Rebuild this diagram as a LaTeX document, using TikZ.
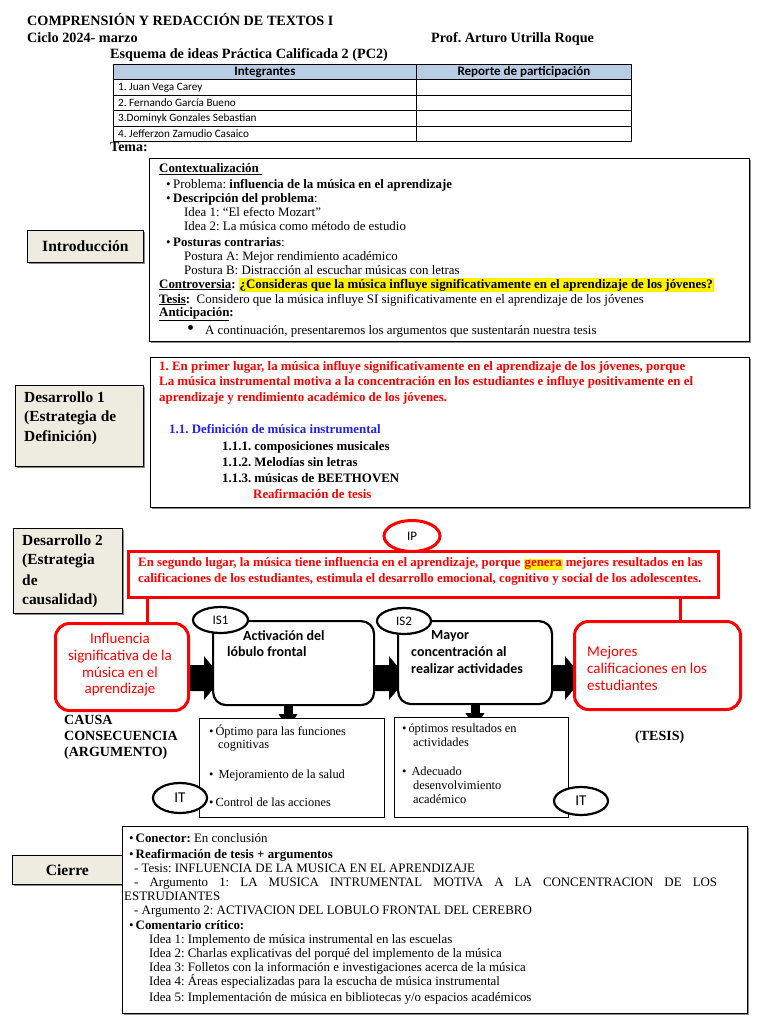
\documentclass[tikz,border=0pt]{standalone}
\usepackage{fontspec}
\setmainfont{Liberation Serif}
\newfontfamily\cb{Carlito}
\usetikzlibrary{calc,shapes.geometric}
\definecolor{rd}{HTML}{FF0000}
\definecolor{bl}{HTML}{2020FF}
\definecolor{beige}{HTML}{EEECE1}
\definecolor{hdr}{HTML}{B8CCE4}
\newcommand\myfs[1]{\fontsize{#1}{#1}\selectfont}
\setlength{\fboxsep}{0.8pt}
\frenchspacing
\newcommand\hbarrow[2]{%
 \fill ($(#1.east |- ay)+(-2,-13)$) -- ($(#2.west |- ay)+(-8,-13)$) -- ($(#2.west |- ay)+(-8,-22)$) -- ($(#2.west |- ay)+(10,0)$) -- ($(#2.west |- ay)+(-8,22)$) -- ($(#2.west |- ay)+(-8,13)$) -- ($(#1.east |- ay)+(-2,13)$) -- cycle;}
\newcommand\vdarrow[3]{%
 \fill ($(#1.south -| #3)+(-4.5,-2)$) rectangle ($(#1.south -| #3)+(4.5,9)$);
 \fill ($(#1.south -| #3)+(-9.5,8)$) -- ($(#1.south -| #3)+(9.5,8)$) -- ($(#1.south -| #3)+(0,22)$) -- cycle;}
\begin{document}
\begin{tikzpicture}[x=1pt,y=-1pt,
 t/.style={anchor=west,inner sep=0pt,text height=9pt,text depth=3pt},
 box/.style={draw,inner sep=0pt,anchor=north west},
 shad/.style={preaction={fill=black!45,transform canvas={shift={(1.8pt,-1.8pt)}}}},
 lab/.style={box,fill=beige,line width=0.8pt,shad},
 big/.style={box,fill=white,line width=1.1pt,shad},
 cell/.style={box,line width=0.8pt,minimum height=15.5},
 redbox/.style={draw=rd,line width=3pt,fill=white,rounded corners=14pt,inner sep=0pt,anchor=north west},
 isbox/.style={draw=black,line width=2.2pt,fill=white,rounded corners=13pt,inner sep=0pt,anchor=north west},
 oval/.style={ellipse,draw,line width=2.2pt,fill=white,inner sep=0pt,font=\cb\myfs{15}},
 hb/.style={font=\myfs{14.2}\bfseries},
 lb/.style={t,font=\myfs{15.4}\bfseries},
 it/.style={t,font=\myfs{12.9}},
 rb/.style={t,font=\myfs{12.9}\bfseries,text=rd},
 rb2/.style={t,font=\myfs{12.85}\bfseries,text=rd},
 cr/.style={t,font=\myfs{12.9}},
 bx/.style={t,font=\myfs{12.4}},
 cbl/.style={t,font=\cb\myfs{14}\bfseries},
 crd/.style={t,font=\cb\myfs{15},text=rd},
]
\useasboundingbox (0,0) rectangle (768,1024);
\fill[white] (0,0) rectangle (768,1024);

% ---------- header ----------
\node[t,hb] (h1) at (27,23) {COMPRENSIÓN Y REDACCIÓN DE TEXTOS I};
\node[t,hb] (h2) at (27,40) {Ciclo 2024- marzo};
\node[t,hb] (h3) at (431,40) {Prof. Arturo Utrilla Roque};
\node[t,font=\myfs{14.2}\bfseries] (h4) at (110,56) {Esquema de ideas Práctica Calificada 2 (PC2)};

% ---------- table ----------
\node[cell,fill=hdr,minimum width=303] (th1) at (113,64) {};
\node[cell,fill=hdr,minimum width=215] (th2) at (416,64) {};
\node[font=\cb\myfs{13}\bfseries,inner sep=0pt] at (th1) {Integrantes};
\node[font=\cb\myfs{13}\bfseries,inner sep=0pt] at (th2) {Reporte de participación};
\foreach \i/\nm in {1/{1. Juan Vega Carey},2/{2. Fernando García Bueno},3/{3.Dominyk Gonzales Sebastian},4/{4. Jefferzon Zamudio Casaico}}{
  \node[cell,minimum width=303] (ra\i) at (113,{64+15.5*\i}) {};
  \node[cell,minimum width=215] (rb\i) at (416,{64+15.5*\i}) {};
  \node[t,font=\cb\myfs{11.2}] at ([xshift=5pt]ra\i.west) {\nm};
}
\node[t,font=\myfs{14}\bfseries] (tema) at (110,149) {Tema:};

% ---------- introduccion ----------
\node[lab,minimum width=116,minimum height=32,font=\myfs{15.6}\bfseries] (Lint) at (27,230) {Introducción};
\node[big,minimum width=600,minimum height=183] (intro) at (149,158) {};
\node[it] at (159,170) {\textbf{\underline{Contextualización\ }}};
\node[it] at (166,186) {•\hspace{2.5pt}Problema: \textbf{influencia de la música en el aprendizaje}};
\node[it] at (166,200) {•\hspace{2.5pt}\textbf{Descripción del problema}:};
\node[it] at (184,214) {Idea 1: “El efecto Mozart”};
\node[it] at (184,228) {Idea 2: La música como método de estudio};
\node[it] at (166,243) {•\hspace{2.5pt}\textbf{Posturas contrarias}:};
\node[it] at (184,257) {Postura A: Mejor rendimiento académico};
\node[it] at (184,271) {Postura B: Distracción al escuchar músicas con letras};
\node[it] at (159,285) {\textbf{\underline{Controversia}:} \colorbox{yellow}{\textbf{¿Consideras que la música influye significativamente en el aprendizaje de los jóvenes?}}};
\node[it] at (159,300) {\textbf{\underline{Tesis}:}\ \ Considero que la música influye SI significativamente en el aprendizaje de los jóvenes};
\node[it] at (159,313) {\textbf{\underline{Anticipación}:}};
\node[it] at (187,331) {{\myfs{20}•}\hspace{11pt}A continuación, presentaremos los argumentos que sustentarán nuestra tesis};

% ---------- desarrollo 1 ----------
\node[lab,minimum width=128,minimum height=81] (Ld1) at (15,385) {};
\node[lb] at (24,399) {Desarrollo 1};
\node[lb] at (24,418) {(Estrategia de};
\node[lb] at (24,438) {Definición)};
\node[big,minimum width=599,minimum height=150] (d1) at (150,357) {};
\node[rb] at (159,367) {1. En primer lugar, la música influye significativamente en el aprendizaje de los jóvenes, porque};
\node[rb] at (159,382) {La música instrumental motiva a la concentración en los estudiantes e influye positivamente en el};
\node[rb] at (159,398) {aprendizaje y rendimiento académico de los jóvenes.};
\node[rb,text=bl] at (169,430) {1.1. Definición de música instrumental};
\node[rb,text=black] at (222,447) {1.1.1. composiciones musicales};
\node[rb,text=black] at (222,463) {1.1.2. Melodías sin letras};
\node[rb,text=black] at (222,479) {1.1.3. músicas de BEETHOVEN};
\node[rb] at (253,495) {Reafirmación de tesis};

% ---------- desarrollo 2 ----------
\node[lab,minimum width=109,minimum height=85] (Ld2) at (13,528) {};
\node[lb] at (22,542) {Desarrollo 2};
\node[lb] at (22,561) {(Estrategia};
\node[lb] at (22,582) {de};
\node[lb] at (22,601) {causalidad)};

\node[box,draw=rd,line width=3pt,fill=white,minimum width=590,minimum height=46] (ipr) at (127,550) {};
\node[oval,draw=rd,line width=3pt,minimum width=56,minimum height=31,font=\cb\myfs{13}] (ip) at (412,536) {IP};
\node[rb2] at (138,563) {En segundo lugar, la música tiene influencia en el aprendizaje, porque \colorbox{yellow}{genera} mejores resultados en las};
\node[rb2] at (138,579) {calificaciones de los estudiantes, estimula el desarrollo emocional, cognitivo y social de los adolescentes.};

\coordinate (ay) at (0,678);
\coordinate (lr1) at (147,0);
\coordinate (lr2) at (680,0);
\coordinate (dx1) at (288,0);
\coordinate (dx2) at (475,0);

% boxes positions (drawn after arrows)
\path (54,622) coordinate (lbp) (212,620) coordinate (is1p) (397,620) coordinate (is2p) (573,620) coordinate (rbp);
\node[redbox,draw=none,fill=none,minimum width=133,minimum height=87] (lbox) at (lbp) {};
\node[isbox,draw=none,fill=none,minimum width=161,minimum height=84] (is1) at (is1p) {};
\node[isbox,draw=none,fill=none,minimum width=154,minimum height=83] (is2) at (is2p) {};
\node[redbox,draw=none,fill=none,minimum width=166,minimum height=88] (rbox) at (rbp) {};
\node[box,draw=none,minimum width=185,minimum height=99] (b1) at (199,718) {};
\node[box,draw=none,minimum width=174,minimum height=100] (b2) at (394,717) {};

% connectors
\draw[rd,line width=3pt] (ipr.south -| lr1) -- (lbox.north -| lr1);
\draw[rd,line width=3pt] (ipr.south -| lr2) -- (rbox.north -| lr2);
\hbarrow{lbox}{is1}
\hbarrow{is1}{is2}
\hbarrow{is2}{rbox}
\vdarrow{is1}{b1}{dx1}
\vdarrow{is2}{b2}{dx2}

% visible boxes
\node[redbox,minimum width=133,minimum height=87] at (lbp) {};
\node[isbox,minimum width=161,minimum height=84] at (is1p) {};
\node[isbox,minimum width=154,minimum height=83] at (is2p) {};
\node[redbox,minimum width=166,minimum height=88] at (rbp) {};
\node[box,fill=white,line width=1pt,minimum width=185,minimum height=99] at (199,718) {};
\node[box,fill=white,line width=1pt,minimum width=174,minimum height=100] at (394,717) {};

\node[oval,minimum width=55,minimum height=26] (s1) at (220.5,620) {\myfs{13}IS1};
\node[oval,minimum width=54,minimum height=26] (s2) at (404,621) {\myfs{13}IS2};

\node[crd,anchor=center] at (120,640) {Influencia};
\node[crd,anchor=center] at (120,657) {significativa de la};
\node[crd,anchor=center] at (120,674) {música en el};
\node[crd,anchor=center] at (120,690) {aprendizaje};

\node[cbl] at (243,637) {Activación del};
\node[cbl] at (227,653) {lóbulo frontal};
\node[cbl] at (431,636) {Mayor};
\node[cbl] at (411,653) {concentración al};
\node[cbl] at (411,670) {realizar actividades};

\node[crd] at (587,653) {Mejores};
\node[crd] at (587,670) {calificaciones en los};
\node[crd] at (587,687) {estudiantes};

\node[bx] at (209,732) {•\hspace{2pt}Óptimo para las funciones};
\node[bx] at (218,745) {cognitivas};
\node[bx] at (209,775) {•\hspace{5pt}Mejoramiento de la salud};
\node[bx] at (209,803) {•\hspace{2pt}Control de las acciones};

\node[bx] at (402,729) {•\hspace{2pt}óptimos resultados en};
\node[bx] at (413,743) {actividades};
\node[bx] at (402,772) {•\hspace{5pt}Adecuado};
\node[bx] at (413,786) {desenvolvimiento};
\node[bx] at (413,800) {académico};

\node[oval,minimum width=54,minimum height=30] (it1) at (180,798) {IT};
\node[oval,minimum width=54,minimum height=28] (it2) at (581,801) {IT};

\node[t,font=\myfs{14}\bfseries] at (64,721) {CAUSA};
\node[t,font=\myfs{14}\bfseries] at (64,737) {CONSECUENCIA};
\node[t,font=\myfs{14}\bfseries] at (64,753) {(ARGUMENTO)};
\node[t,font=\myfs{14}\bfseries] at (635,737) {(TESIS)};

% ---------- cierre ----------
\node[lab,minimum width=110,minimum height=29,font=\myfs{15.6}\bfseries] (Lc) at (12,855) {Cierre};
\node[big,minimum width=625,minimum height=187] (ci) at (122,826) {};
\node[cr] at (129,839) {•\hspace{2pt}\textbf{Conector:} En conclusión};
\node[cr] at (129,855) {•\hspace{2pt}\textbf{Reafirmación de tesis + argumentos}};
\node[cr] at (134,869) {- Tesis: INFLUENCIA DE LA MUSICA EN EL APRENDIZAJE};
\node[cr] at (134,883) {\makebox[583pt][s]{- Argumento 1: LA MUSICA INTRUMENTAL MOTIVA A LA CONCENTRACION DE LOS}};
\node[cr] at (124,897) {ESTRUDIANTES};
\node[cr] at (134,911) {- Argumento 2: ACTIVACION DEL LOBULO FRONTAL DEL CEREBRO};
\node[cr] at (129,926) {•\hspace{2pt}\textbf{Comentario crítico:}};
\node[cr] at (149,940) {Idea 1: Implemento de música instrumental en las escuelas};
\node[cr] at (149,954) {Idea 2: Charlas explicativas del porqué del implemento de la música};
\node[cr] at (149,968) {Idea 3: Folletos con la información e investigaciones acerca de la música};
\node[cr] at (149,982) {Idea 4: Áreas especializadas para la escucha de música instrumental};
\node[cr] at (149,998) {Idea 5: Implementación de música en bibliotecas y/o espacios académicos};
\end{tikzpicture}
\end{document}
